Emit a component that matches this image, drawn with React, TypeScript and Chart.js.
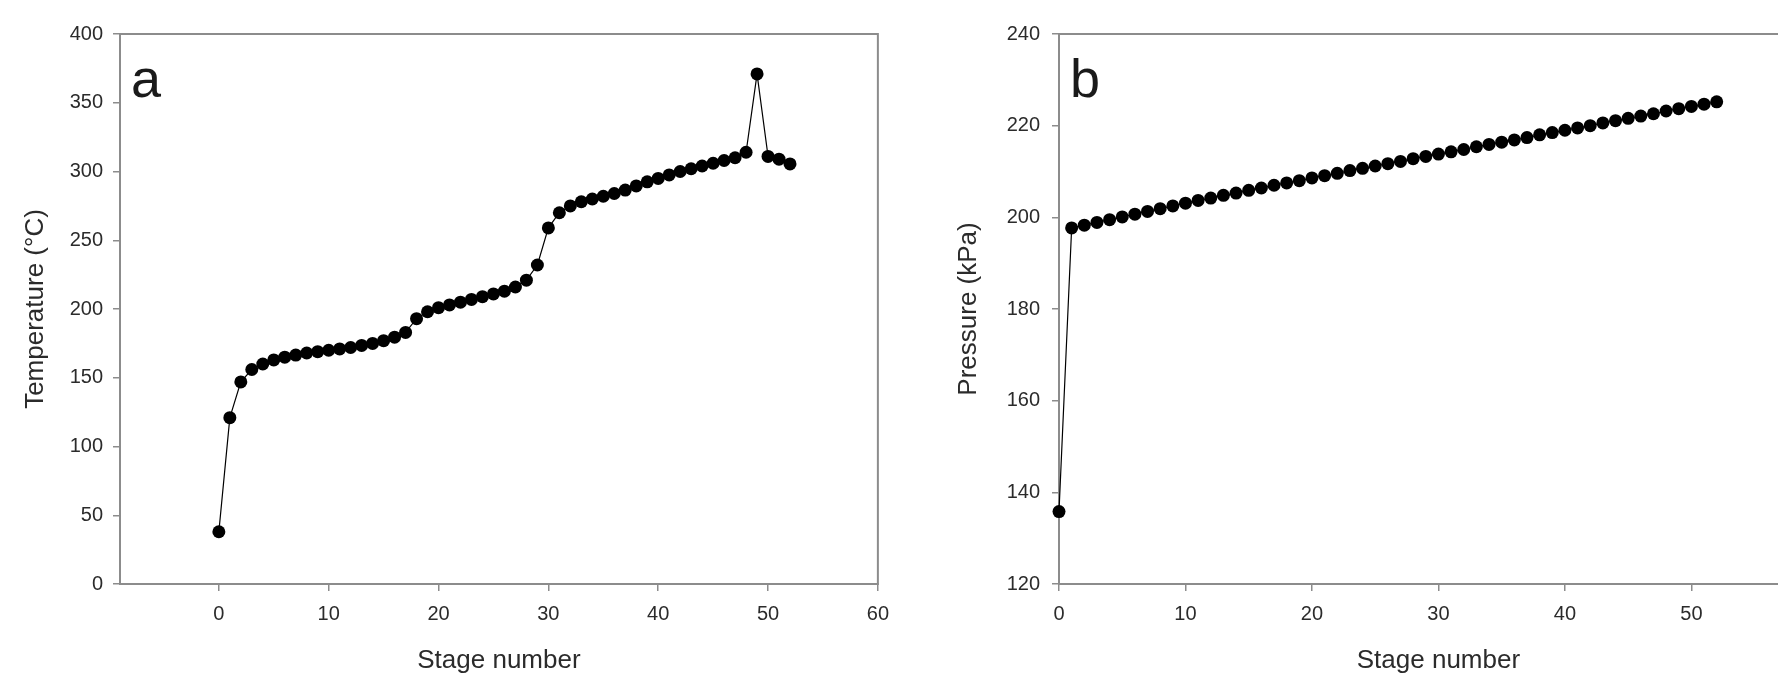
import React, { useEffect, useRef } from "react";
import { Chart, registerables } from "chart.js";

Chart.register(...registerables);

// ---------- data ----------
const stages = [
  0, 1, 2, 3, 4, 5, 6, 7, 8, 9, 10, 11, 12, 13, 14, 15, 16, 17, 18, 19, 20,
  21, 22, 23, 24, 25, 26, 27, 28, 29, 30, 31, 32, 33, 34, 35, 36, 37, 38, 39,
  40, 41, 42, 43, 44, 45, 46, 47, 48, 49, 50, 51, 52,
];

const temperatureC = [
  38, 121, 147, 156, 160, 163, 165, 166.5, 168, 169, 170, 171, 172, 173.5,
  175, 177, 179.5, 183, 193, 198, 201, 203, 205, 207, 209, 211, 213, 216, 221,
  232, 259, 270, 275, 278, 280, 282, 284, 286.5, 289.5, 292.5, 295, 297.5, 300,
  302, 304, 306, 308, 310, 314, 371, 311, 309, 305.5,
];

const pressureKPa = [
  135.8, 197.7, 198.3, 198.9, 199.5, 200.1, 200.7, 201.3, 201.9, 202.5, 203.1,
  203.7, 204.2, 204.8, 205.3, 205.9, 206.4, 207.0, 207.5, 208.0, 208.6, 209.1,
  209.6, 210.2, 210.7, 211.2, 211.7, 212.2, 212.8, 213.3, 213.8, 214.3, 214.8,
  215.4, 215.9, 216.4, 216.9, 217.4, 218.0, 218.5, 219.0, 219.5, 220.0, 220.6,
  221.1, 221.6, 222.1, 222.6, 223.2, 223.7, 224.2, 224.7, 225.2,
];

const stageTicks = [0, 10, 20, 30, 40, 50, 60];
const temperatureTicks = [0, 50, 100, 150, 200, 250, 300, 350, 400];
const pressureTicks = [120, 140, 160, 180, 200, 220, 240];

const xTitle = "Stage number";
const yTitleA = "Temperature (°C)";
const yTitleB = "Pressure (kPa)";

// ---------- styling ----------
const FONT = "'Liberation Sans', Arial, Helvetica, sans-serif";
const AXIS_GRAY = "#8c8c8c";
const TEXT = "#2b2b2b";

const framePlugin = {
  id: "frame",
  beforeDatasetsDraw(chart: any) {
    const { ctx, chartArea } = chart;
    const { left, top, right, bottom } = chartArea;
    ctx.save();
    ctx.strokeStyle = AXIS_GRAY;
    ctx.lineWidth = 2;
    ctx.beginPath();
    ctx.moveTo(left - 1, top);
    ctx.lineTo(right, top);
    ctx.lineTo(right, bottom + 1);
    ctx.stroke();
    ctx.restore();
  },
};

function panelLabelPlugin(label: string) {
  return {
    id: "panelLabel",
    afterDraw(chart: any) {
      const { ctx, chartArea } = chart;
      ctx.save();
      ctx.font = `54px ${FONT}`;
      ctx.fillStyle = "#1a1a1a";
      ctx.textBaseline = "alphabetic";
      ctx.textAlign = "left";
      ctx.fillText(label, chartArea.left + 11, chartArea.top + 63);
      ctx.restore();
    },
  };
}

type PanelOpts = {
  values: number[];
  xMin: number;
  xMax: number;
  yMin: number;
  yMax: number;
  yTicks: number[];
  yTitle: string;
  yAxisWidth: number;
  yTitlePad: number;
  yTickPad: number;
  rightPad: number;
  label: string;
};

function buildConfig(p: PanelOpts): any {
  return {
    type: "line",
    data: {
      datasets: [
        {
          data: stages.map((s, i) => ({ x: s, y: p.values[i] })),
          borderColor: "#000",
          borderWidth: 1.2,
          pointRadius: 6.5,
          pointHoverRadius: 6.5,
          pointBackgroundColor: "#000",
          pointBorderColor: "#000",
          pointBorderWidth: 0,
          tension: 0,
          fill: false,
          clip: false,
        },
      ],
    },
    options: {
      animation: false,
      responsive: false,
      maintainAspectRatio: false,
      events: [],
      layout: { padding: { top: 34, right: p.rightPad, bottom: 0, left: 0 } },
      plugins: {
        legend: { display: false },
        tooltip: { enabled: false },
      },
      scales: {
        x: {
          type: "linear",
          min: p.xMin,
          max: p.xMax,
          afterFit: (s: any) => {
            s.height = 94;
          },
          afterBuildTicks: (s: any) => {
            s.ticks = stageTicks.map((v) => ({ value: v }));
          },
          grid: {
            display: true,
            drawOnChartArea: false,
            drawTicks: true,
            tickLength: 7,
            color: AXIS_GRAY,
            lineWidth: 1.5,
          },
          border: { display: true, color: AXIS_GRAY, width: 2 },
          ticks: {
            font: { family: FONT, size: 20 },
            color: TEXT,
            padding: 11,
            maxRotation: 0,
            autoSkip: false,
          },
          title: {
            display: true,
            text: xTitle,
            font: { family: FONT, size: 26 },
            color: TEXT,
            padding: { top: 0, bottom: 2 },
          },
        },
        y: {
          type: "linear",
          min: p.yMin,
          max: p.yMax,
          afterFit: (s: any) => {
            s.width = p.yAxisWidth;
          },
          afterBuildTicks: (s: any) => {
            s.ticks = p.yTicks.map((v) => ({ value: v }));
          },
          grid: {
            display: true,
            drawOnChartArea: false,
            drawTicks: true,
            tickLength: 7,
            color: AXIS_GRAY,
            lineWidth: 1.5,
          },
          border: { display: true, color: AXIS_GRAY, width: 2 },
          ticks: {
            font: { family: FONT, size: 20 },
            color: TEXT,
            padding: p.yTickPad,
            autoSkip: false,
          },
          title: {
            display: true,
            text: p.yTitle,
            font: { family: FONT, size: 26 },
            color: TEXT,
            padding: { top: p.yTitlePad, bottom: 0 },
          },
        },
      },
    },
    plugins: [framePlugin, panelLabelPlugin(p.label)],
  };
}

function Panel({ left, width, opts }: { left: number; width: number; opts: PanelOpts }) {
  const ref = useRef<HTMLCanvasElement>(null);
  useEffect(() => {
    if (!ref.current) return;
    const chart = new Chart(ref.current, buildConfig(opts));
    return () => chart.destroy();
  }, []);
  return (
    <canvas
      ref={ref}
      width={width}
      height={678}
      style={{ position: "absolute", left, top: 0, width, height: 678 }}
    />
  );
}

export default function App() {
  return (
    <div
      style={{
        position: "fixed",
        left: 0,
        top: 0,
        width: 1778,
        height: 678,
        overflow: "hidden",
        background: "#fff",
      }}
    >
      <Panel
        left={0}
        width={900}
        opts={{
          values: temperatureC,
          xMin: -9,
          xMax: 60,
          yMin: 0,
          yMax: 400,
          yTicks: temperatureTicks,
          yTitle: yTitleA,
          yAxisWidth: 120,
          yTitlePad: 20,
          yTickPad: 10,
          rightPad: 18,
          label: "a",
        }}
      />
      <Panel
        left={930}
        width={910}
        opts={{
          values: pressureKPa,
          xMin: 0,
          xMax: 60,
          yMin: 120,
          yMax: 240,
          yTicks: pressureTicks,
          yTitle: yTitleB,
          yAxisWidth: 129,
          yTitlePad: 23,
          yTickPad: 12,
          rightPad: 19,
          label: "b",
        }}
      />
    </div>
  );
}
